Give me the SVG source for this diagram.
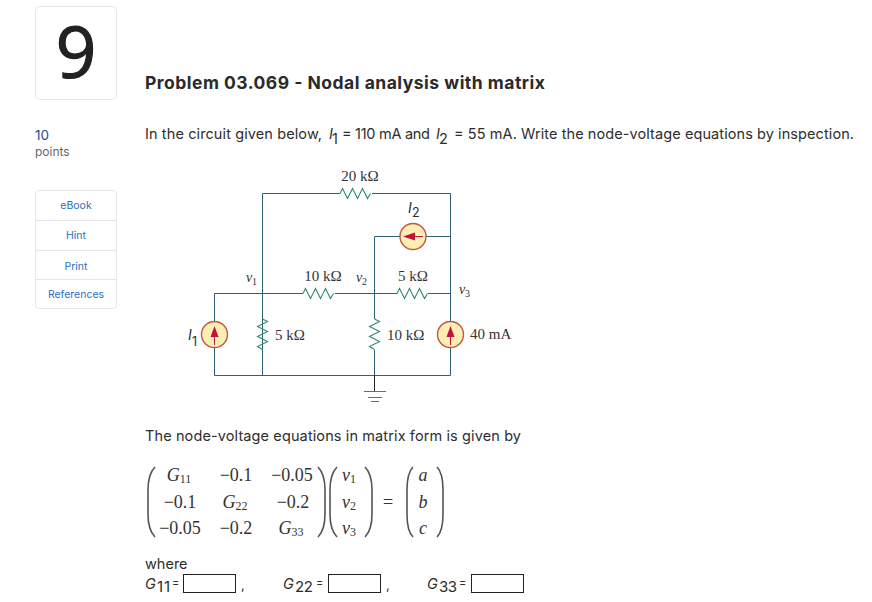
<svg xmlns="http://www.w3.org/2000/svg" width="872" height="602" viewBox="0 0 872 602">
<style>
text{font-family:"Inter","Lato","Liberation Sans",sans-serif;fill:#2d2d2d}
.s{font-family:"Liberation Serif","Times New Roman",serif;fill:#333}
.i{font-style:italic}
.link{font-size:10.500px;fill:#2a6fc0;text-anchor:middle}
.body{font-size:14.500px}
.w{fill:none;stroke:#2f5f78;stroke-width:1}
.r{fill:none;stroke:#2e8b64;stroke-width:1.1}
.src{fill:#fdeeb4;stroke:#c0573f;stroke-width:1.4}
.box{fill:#fff;stroke:#e6e6e6;stroke-width:1}
.in{fill:#fff;stroke:#222;stroke-width:1}
.ar{fill:#c0143c}
.st{stroke:#c0143c;stroke-width:1;fill:none}
.paren{fill:none;stroke:#555;stroke-width:1.6}
.m{font-size:18px;text-anchor:middle}
.sub{font-size:12px}
</style>
<rect width="872" height="602" fill="#fff"/>
<g id="sidebar">
<rect class="box" x="35.500" y="6.500" width="81" height="93" rx="4"/>
<text x="76" y="78" font-size="71" text-anchor="middle" stroke="#222" stroke-width="1.2" style="font-family:'Open Sans',sans-serif;fill:#222">9</text>
<text x="35" y="140" font-size="13.500" style="fill:#1c4f8c">10</text>
<text x="35" y="156" font-size="12" style="fill:#666">points</text>
<rect class="box" x="35.500" y="190.500" width="81" height="118" rx="3"/>
<path d="M36 220.500H116M36 250.500H116M36 279.500H116" stroke="#e6e6e6" fill="none"/>
<text class="link" x="76" y="209">eBook</text>
<text class="link" x="76" y="239">Hint</text>
<text class="link" x="76" y="270">Print</text>
<text class="link" x="76" y="298">References</text>
</g>
<g id="heading">
<text x="145" y="89" font-size="17.500" font-weight="700" textLength="400" style="fill:#2a2a2a">Problem 03.069 - Nodal analysis with matrix</text>
<text class="body" x="145" y="138.500" textLength="177">In the circuit given below,</text>
<text class="body i" x="329" y="138.500">I</text><text x="332" y="144" font-size="14.500">1</text>
<text class="body" x="342" y="138.500" textLength="88">= 110 mA and</text>
<text class="body i" x="436" y="138.500">I</text><text x="439" y="144" font-size="14.500">2</text>
<text class="body" x="454" y="138.500" textLength="400">= 55 mA. Write the node-voltage equations by inspection.</text>
</g>
<g id="connectors">
<path class="w" d="M340 193.500H262.500V375.500M372 193.500H450.500V375.500M214.500 321V293.500H303M335 293.500H397M428 293.500H450.500M214.500 348V375.500H450.500M374.500 236.500V319M374.500 350V375.500M400 236.500H374.500M426 236.500H450.500"/>
<path d="M374.500 375.500V391" stroke="#222" fill="none"/>
<path d="M364 391.500H386M368 397.500H382M371 401.500H379" stroke="#2e8b64" fill="none"/>
</g>
<g id="r20k"><path class="r" d="M340 193.500l2.500 -5l5 10l5 -10l5 10l5 -10l5 10l3 -5"/><text class="s" x="360" y="181" font-size="15" text-anchor="middle">20 kΩ</text></g>
<g id="r10k-a"><path class="r" d="M303 293.500l2.500 -5l5 10l5 -10l5 10l5 -10l5 10l3 -5"/><text class="s" x="323" y="281" font-size="15" text-anchor="middle">10 kΩ</text></g>
<g id="r5k-b"><path class="r" d="M397 293.500l2.500 -5l5 10l5 -10l5 10l5 -10l5 10l3 -5"/><text class="s" x="413" y="281" font-size="15" text-anchor="middle">5 kΩ</text></g>
<g id="r5k-v"><path class="r" d="M262.500 319l5 2.500l-10 5l10 5l-10 5l10 5l-10 5l5 3"/><text class="s" x="275" y="340" font-size="15">5 kΩ</text></g>
<g id="r10k-v"><path class="r" d="M374.500 319l5 2.500l-10 5l10 5l-10 5l10 5l-10 5l5 3"/><text class="s" x="387" y="340" font-size="15">10 kΩ</text></g>
<g id="i1"><circle class="src" cx="214.500" cy="334.500" r="13"/><path class="st" d="M214.500 345V336"/><path class="ar" d="M214.500 326l-4 11h8z"/>
<text x="188" y="340" font-size="14" font-style="italic">I</text><text x="192" y="346" font-size="12.500">1</text></g>
<g id="i2"><circle class="src" cx="413" cy="236.500" r="13"/><path class="st" d="M423 236.500H414"/><path class="ar" d="M403 236.500l12 -4v8z"/>
<text x="408" y="213" font-size="14" font-style="italic">I</text><text x="412" y="217" font-size="12.500">2</text></g>
<g id="i3"><circle class="src" cx="450.500" cy="334.500" r="13"/><path class="st" d="M450.500 345V336"/><path class="ar" d="M450.500 326l-4 11h8z"/>
<text class="s" x="470" y="339" font-size="15">40 mA</text></g>
<g id="node-labels">
<text class="s i" x="246" y="282" font-size="14">v</text><text class="s" x="252" y="285" font-size="10">1</text>
<text class="s i" x="356" y="282" font-size="14">v</text><text class="s" x="362" y="285" font-size="10">2</text>
<text class="s i" x="459" y="294" font-size="14">v</text><text class="s" x="465" y="297" font-size="10">3</text>
</g>
<g id="matrix-intro"><text class="body" x="145" y="441" textLength="376">The node-voltage equations in matrix form is given by</text></g>
<g id="matrix">
<path class="paren" d="M155 467C150 472 148 480 148 490V514C148 524 150 532 155 537"/>
<path class="paren" d="M318 467C323 472 325 480 325 490V514C325 524 323 532 318 537"/>
<path class="paren" d="M337 467C332 472 330 480 330 490V514C330 524 332 532 337 537"/>
<path class="paren" d="M365 467C370 472 372 480 372 490V514C372 524 370 532 365 537"/>
<path class="paren" d="M413 467C408 472 407 480 407 490V514C407 524 408 532 413 537"/>
<path class="paren" d="M437 467C442 472 443 480 443 490V514C443 524 442 532 437 537"/>
<text class="s m" x="179" y="481"><tspan class="i">G</tspan><tspan class="sub" dy="2">11</tspan></text>
<text class="s m" x="236" y="481">−0.1</text>
<text class="s m" x="292" y="481">−0.05</text>
<text class="s m" x="180" y="508">−0.1</text>
<text class="s m" x="235" y="508"><tspan class="i">G</tspan><tspan class="sub" dy="2">22</tspan></text>
<text class="s m" x="293" y="508">−0.2</text>
<text class="s m" x="180" y="534">−0.05</text>
<text class="s m" x="236" y="534">−0.2</text>
<text class="s m" x="291" y="534"><tspan class="i">G</tspan><tspan class="sub" dy="2">33</tspan></text>
<text class="s m" x="349" y="481"><tspan class="i">v</tspan><tspan class="sub" dy="2">1</tspan></text>
<text class="s m" x="349" y="508"><tspan class="i">v</tspan><tspan class="sub" dy="2">2</tspan></text>
<text class="s m" x="349" y="534"><tspan class="i">v</tspan><tspan class="sub" dy="2">3</tspan></text>
<text class="s m" x="388" y="508">=</text>
<text class="s m i" x="423" y="481">a</text>
<text class="s m i" x="423" y="508">b</text>
<text class="s m i" x="423" y="534">c</text>
</g>
<g id="answers">
<text class="body" x="145" y="569">where</text>
<text x="145" y="589" font-size="14.500" font-style="italic">G</text><text x="157" y="592" font-size="15" textLength="13">11</text><text x="172" y="586" font-size="11">=</text>
<rect class="in" x="183.500" y="574.500" width="52" height="18"/><text x="241" y="590" font-size="13">,</text>
<text x="283" y="589" font-size="14.500" font-style="italic">G</text><text x="295" y="592" font-size="15" textLength="18">22</text><text x="316" y="586" font-size="11">=</text>
<rect class="in" x="328.500" y="574.500" width="52" height="18"/><text x="386" y="590" font-size="13">,</text>
<text x="427" y="589" font-size="14.500" font-style="italic">G</text><text x="439" y="592" font-size="15" textLength="18">33</text><text x="459" y="586" font-size="11">=</text>
<rect class="in" x="471.500" y="574.500" width="52" height="18"/>
</g>
</svg>
